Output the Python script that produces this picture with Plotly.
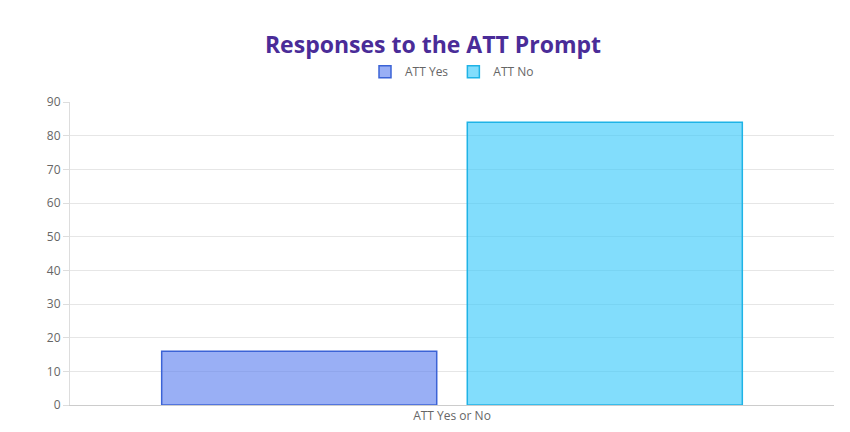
import plotly.graph_objects as go

categories = ["ATT Yes or No"]
series_names = ["ATT Yes", "ATT No"]
yes_values = [16]
no_values = [84]
y_ticks = [0, 10, 20, 30, 40, 50, 60, 70, 80, 90]

fig = go.Figure()
fig.add_trace(go.Bar(x=categories, y=yes_values, name=series_names[0],
                     marker=dict(color="rgba(99,132,240,0.65)", line=dict(color="#3B63D6", width=1.5))))
fig.add_trace(go.Bar(x=categories, y=no_values, name=series_names[1],
                     marker=dict(color="rgba(54,200,250,0.62)", line=dict(color="#1FB3E6", width=1.5))))

fig.update_layout(
    width=850, height=432,
    paper_bgcolor="white", plot_bgcolor="white",
    margin=dict(l=62, r=24, t=94, b=35),
    title=dict(text="<b>Responses to the ATT Prompt</b>", x=0.5, xanchor="center", y=0.915, yanchor="middle",
               font=dict(family="Open Sans", size=23, color="#4A2C98")),
    legend=dict(orientation="h", x=0.5, xanchor="center", y=1.1, yanchor="middle",
                font=dict(family="Open Sans", size=12, color="#666")),
    bargap=0.2, bargroupgap=0.1,
    font=dict(family="Open Sans", size=12, color="#666"),
)
fig.update_yaxes(range=[0, 90], tickvals=y_ticks, gridcolor="#e6e6e6", showline=True, linecolor="#ddd",
                 ticks="outside", ticklen=6, tickcolor="#ddd", zeroline=False)
fig.update_xaxes(showline=True, linecolor="#ccc", ticks="", showgrid=False)
fig.write_html("out.html")
